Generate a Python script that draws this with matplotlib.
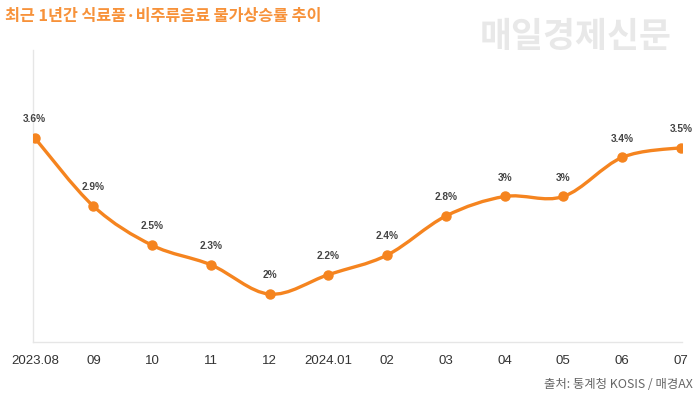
import matplotlib
matplotlib.use("Agg")
import matplotlib.pyplot as plt
from matplotlib.path import Path
from matplotlib.patches import PathPatch

months = ["2023.08", "09", "10", "11", "12", "2024.01", "02", "03", "04", "05", "06", "07"]
values = [3.6, 2.9, 2.5, 2.3, 2.0, 2.2, 2.4, 2.8, 3.0, 3.0, 3.4, 3.5]
labels = ["3.6%", "2.9%", "2.5%", "2.3%", "2%", "2.2%", "2.4%", "2.8%", "3%", "3%", "3.4%", "3.5%"]

ORANGE = "#F5841F"
KR = ["Noto Sans CJK KR", "DejaVu Sans"]


def smooth_path(xs, ys):
    # catmull-rom curve as bezier segments between the data points
    n = len(xs)
    verts = [(xs[0], ys[0])]
    codes = [Path.MOVETO]
    for i in range(n - 1):
        x0, y0 = xs[max(i - 1, 0)], ys[max(i - 1, 0)]
        x1, y1 = xs[i], ys[i]
        x2, y2 = xs[i + 1], ys[i + 1]
        x3, y3 = xs[min(i + 2, n - 1)], ys[min(i + 2, n - 1)]
        c1 = (x1 + (x2 - x0) / 6, y1 + (y2 - y0) / 6)
        c2 = (x2 - (x3 - x1) / 6, y2 - (y3 - y1) / 6)
        verts += [c1, c2, (x2, y2)]
        codes += [Path.CURVE4] * 3
    return Path(verts, codes)


fig = plt.figure(figsize=(7, 3.95), dpi=100)
ax = fig.add_axes([33 / 700, 1 - 342 / 395, (682 - 33) / 700, (342 - 50) / 395])

xs = list(range(len(months)))
ax.add_patch(PathPatch(smooth_path(xs, values), facecolor="none",
                       edgecolor=ORANGE, lw=2.4, capstyle="round", zorder=2))
ax.plot(xs, values, "o", color=ORANGE, ms=6.5, zorder=3)

for x, v, lab in zip(xs, values, labels):
    ax.annotate(lab, (x, v), xytext=(0, 10), textcoords="offset points",
                ha="center", va="bottom", fontsize=7.3, fontweight="bold",
                color="#444444", family="Liberation Sans")

ax.set_xlim(-0.03, 11.02)
ax.set_ylim(1.51, 4.5)
ax.set_xticks(xs)
ax.set_xticklabels(months, family="Liberation Sans", fontsize=9.5, color="#333333")
ax.set_yticks([])
ax.tick_params(axis="x", length=0, pad=9)
for side in ["top", "right"]:
    ax.spines[side].set_visible(False)
for side in ["left", "bottom"]:
    ax.spines[side].set_color("#e6e6e6")
    ax.spines[side].set_linewidth(1)

fig.text(5 / 700, 1 - 16 / 395, "최근 1년간 식료품·비주류음료 물가상승률 추이", family=KR,
         fontsize=11.7, fontweight="bold", color="#F7923A", ha="left", va="center")
fig.text(672 / 700, 1 - 36 / 395, "매일경제신문", family=KR, fontsize=25,
         fontweight="bold", color="#e8e8e8", ha="right", va="center")
fig.text(693 / 700, 1 - 385 / 395, "출처: 통계청 KOSIS / 매경AX", family=KR,
         fontsize=8.9, color="#666666", ha="right", va="center")

fig.savefig("out.png", dpi=100)
